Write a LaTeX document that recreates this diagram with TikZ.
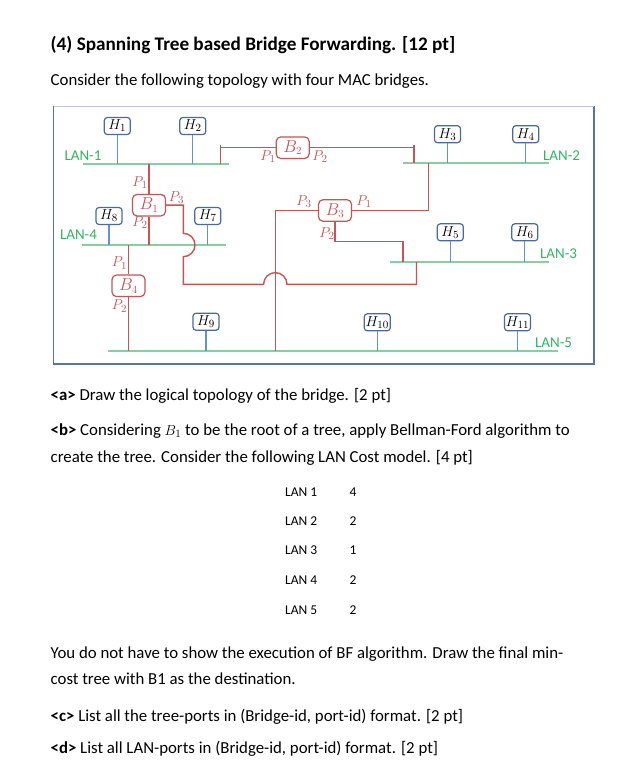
\documentclass[tikz,border=0pt]{standalone}
\usepackage{fontspec}
\setmainfont{Carlito}
\definecolor{lanline}{RGB}{135,206,160}
\definecolor{lantext}{RGB}{50,180,100}
\definecolor{brred}{RGB}{195,85,85}
\definecolor{hostblue}{RGB}{75,105,155}
\definecolor{stemblue}{RGB}{100,145,200}
\definecolor{frameblue}{RGB}{85,115,165}
\definecolor{frametop}{RGB}{185,200,220}
\tikzset{
  lan/.style={draw=lanline, line width=2pt},
  lanlbl/.style={text=lantext, inner sep=0pt, font=\fontsize{15}{15}\selectfont},
  host/.style={draw=hostblue, line width=1.2pt, rounded corners=3pt, fill=white,
    minimum width=26pt, minimum height=17pt, inner sep=0pt, font=\fontsize{15}{15}\selectfont},
  stem/.style={draw=stemblue, line width=1.3pt},
  bridge/.style={draw=brred, line width=1.2pt, rounded corners=4.5pt, fill=white,
    minimum width=33pt, minimum height=21.5pt, inner sep=0pt, text=brred, font=\fontsize{16}{16}\selectfont},
  link/.style={draw=brred, line width=1.4pt},
  port/.style={text=brred, inner sep=0pt, font=\fontsize{15}{15}\selectfont},
  txt/.style={anchor=base west, inner sep=0pt, font=\fontsize{16.8}{20}\selectfont},
  tbl/.style={anchor=base west, inner sep=0pt, font=\fontsize{13.5}{16}\selectfont},
}
\begin{document}
\begin{tikzpicture}[x=1pt,y=-1pt]
\useasboundingbox (0,0) rectangle (630,783);
\fill[white] (0,0) rectangle (630,783);

% texts
\node[txt, font=\fontsize{19.2}{22}\selectfont\bfseries] (title) at (50.5,51) {(4) Spanning Tree based Bridge Forwarding. [12 pt]};
\node[txt] (intro) at (50.5,86) {Consider the following topology with four MAC bridges.};
\node[txt] (qa) at (50.5,400) {\textbf{<a>} Draw the logical topology of the bridge. [2 pt]};
\node[txt] (qb) at (50.5,435.5) {\textbf{<b>} Considering {\fontsize{15}{15}\selectfont$B_1$} to be the root of a tree, apply Bellman-Ford algorithm to};
\node[txt] (qb2) at (50.5,462.5) {create the tree. Consider the following LAN Cost model. [4 pt]};
\foreach \n/\c/\y in {1/4/496.5,2/2/525.5,3/1/554.5,4/2/584.5,5/2/614.5}{
  \node[tbl] (lan\n) at (285,\y) {LAN \n};
  \node[tbl] (cost\n) at (349.5,\y) {\c};
}
\node[txt] (note1) at (50.5,658.5) {You do not have to show the execution of BF algorithm. Draw the final min-};
\node[txt] (note2) at (50.5,684.5) {cost tree with B1 as the destination.};
\node[txt] (qc) at (50.5,721.5) {\textbf{<c>} List all the tree-ports in (Bridge-id, port-id) format. [2 pt]};
\node[txt] (qd) at (50.5,753.5) {\textbf{<d>} List all LAN-ports in (Bridge-id, port-id) format. [2 pt]};

% frame
\draw[frameblue, line width=1.4pt] (53.5,106.5) -- (53.5,364) -- (594,364) -- (594,106.5);
\draw[frametop, line width=1.4pt] (53.5,106.5) -- (594,106.5);

% LANs
\coordinate (L1w) at (83,164.5);   \coordinate (L1e) at (229,164.5);
\coordinate (L2w) at (403,163);    \coordinate (L2e) at (548.5,163);
\coordinate (L3w) at (390,262);    \coordinate (L3e) at (548.5,262);
\coordinate (L4w) at (82,245);     \coordinate (L4e) at (226,245);
\coordinate (L5w) at (108,351);    \coordinate (L5e) at (558,351);
\draw[lan] (L1w) -- (L1e);
\draw[lan] (L2w) -- (L2e);
\draw[lan] (L3w) -- (L3e);
\draw[lan] (L4w) -- (L4e);
\draw[lan] (L5w) -- (L5e);
\node[lanlbl] (lbl1) at (83,156) {LAN-1};
\node[lanlbl] (lbl2) at (561.5,156) {LAN-2};
\node[lanlbl] (lbl3) at (558.5,253.5) {LAN-3};
\node[lanlbl] (lbl4) at (78.5,235) {LAN-4};
\node[lanlbl] (lbl5) at (553.5,343) {LAN-5};

% hosts
\node[host] (H1) at (117.3,126) {$H_1$};
\node[host] (H2) at (192.8,126) {$H_2$};
\node[host] (H3) at (447.5,134.2) {$H_3$};
\node[host] (H4) at (525.8,134.2) {$H_4$};
\node[host] (H5) at (450.3,232.3) {$H_5$};
\node[host] (H6) at (524.8,232.3) {$H_6$};
\node[host] (H7) at (207.8,216) {$H_7$};
\node[host] (H8) at (109,216) {$H_8$};
\node[host] (H9) at (206,321.7) {$H_9$};
\node[host] (H10) at (377.3,322.3) {$H_{10}$};
\node[host] (H11) at (517.5,322.3) {$H_{11}$};
\foreach \h/\l in {H1/L1w,H2/L1w,H3/L2w,H4/L2w,H5/L3w,H6/L3w,H7/L4w,H8/L4w,H9/L5w,H10/L5w,H11/L5w}{
  \draw[stem] (\h) -- (\h |- \l);
}

% bridges
\node[bridge] (B1) at (149,205.2) {$B_1$};
\node[bridge] (B2) at (292.7,147.7) {$B_2$};
\node[bridge] (B3) at (335,210.5) {$B_3$};
\node[bridge] (B4) at (128.5,285.8) {$B_4$};

% B1
\draw[link] (B1) -- (B1 |- L1w);
\draw[link] (B1) -- (B1 |- L4w);
\coordinate (J1) at (183.3,245);
\coordinate (J2) at (275.3,284.3);
\coordinate (T3a) at (416.5,262);
\draw[link] (B1.east) -| ([yshift=11.7pt]J1) arc[start angle=-90, end angle=90, radius=11.7]
  -- (J1 |- J2) -- ([xshift=-11.7pt]J2) arc[start angle=180, end angle=360, radius=11.7]
  -- (T3a |- J2) -- (T3a);
\node[port] (b1p1) at (140,182.3) {$P_1$};
\node[port] (b1p2) at (140,222.5) {$P_2$};
\node[port] (b1p3) at (176.5,198) {$P_3$};

% B2
\coordinate (T1b) at (220.7,164.5);
\coordinate (T2b) at (414,163);
\draw[link] (T1b) -- ++(0,-19.5);
\draw[link] (B2) -- (T1b |- B2);
\draw[link] (T2b) -- ++(0,-18);
\draw[link] (B2) -- (T2b |- B2);
\node[port] (b2p1) at (268,156.7) {$P_1$};
\node[port] (b2p2) at (320,156.5) {$P_2$};

% B3
\coordinate (T2c) at (428.7,163);
\coordinate (T5b) at (275.3,351);
\coordinate (T3b) at (403,262);
\draw[link] (B3) -- (T2c |- B3) -- (T2c);
\draw[link] (B3) -- (T5b |- B3) -- (T5b);
\draw[link] (B3.south) -- ++(0,19.5) -| (T3b);
\node[port] (b3p1) at (364,202) {$P_1$};
\node[port] (b3p3) at (304,202) {$P_3$};
\node[port] (b3p2) at (327,233.5) {$P_2$};

% B4
\draw[link] (B4) -- (B4 |- L4w);
\draw[link] (B4) -- (B4 |- L5w);
\node[port] (b4p1) at (119.5,263) {$P_1$};
\node[port] (b4p2) at (119.5,306) {$P_2$};
\end{tikzpicture}
\end{document}
